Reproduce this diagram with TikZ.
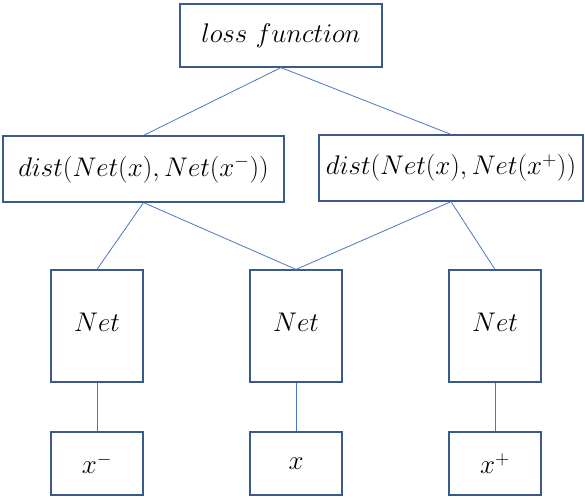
\documentclass[tikz,border=0pt]{standalone}
\newcommand{\bigtxt}[1]{\scalebox{1.3}{#1}}
\begin{document}
\begin{tikzpicture}[x=1pt,y=-1pt,
  box/.style={draw=boxc,line width=1.2pt,inner sep=0pt,font=\fontsize{21}{25}\selectfont},
  lbl/.style={inner sep=0pt,font=\fontsize{21}{25}\selectfont},
  link/.style={draw=linec,line width=0.8pt}]
\definecolor{boxc}{HTML}{3A5A8C}
\definecolor{linec}{HTML}{4A78C2}
\useasboundingbox (0,0) rectangle (585,499);
\node[box,minimum width=202pt,minimum height=63pt] (loss) at (281,35.5) {\bigtxt{$loss\ function$}};
\node[box,minimum width=281pt,minimum height=66pt] (d1) at (143.5,169) {\bigtxt{$dist(Net(x),Net(x^-))$}};
\node[box,minimum width=264pt,minimum height=66pt] (d2) at (451,168) {\bigtxt{$dist(Net(x),Net(x^+))$}};
\node[box,minimum width=92pt,minimum height=112pt] (n1) at (97,326) {};
\node[box,minimum width=92pt,minimum height=112pt] (n2) at (296,326) {};
\node[box,minimum width=92pt,minimum height=112pt] (n3) at (495,326) {};
\node[lbl] (t1) at (97,322) {\bigtxt{$Net$}};
\node[lbl] (t2) at (296,322) {\bigtxt{$Net$}};
\node[lbl] (t3) at (495,322) {\bigtxt{$Net$}};
\node[box,minimum width=92pt,minimum height=63pt] (x1) at (97,463.5) {\bigtxt{$x^-$}};
\node[box,minimum width=92pt,minimum height=63pt] (x2) at (296,463.5) {\bigtxt{$x$}};
\node[box,minimum width=92pt,minimum height=63pt] (x3) at (495,463.5) {\bigtxt{$x^+$}};
\draw[link] (loss.south) -- (d1.north);
\draw[link] (loss.south) -- (d2.north);
\draw[link] (d1.south) -- (n1.north);
\draw[link] (d1.south) -- (n2.north);
\draw[link] (d2.south) -- (n2.north);
\draw[link] (d2.south) -- (n3.north);
\draw[link] (n1.south) -- (x1.north);
\draw[link] (n2.south) -- (x2.north);
\draw[link] (n3.south) -- (x3.north);
\end{tikzpicture}
\end{document}
